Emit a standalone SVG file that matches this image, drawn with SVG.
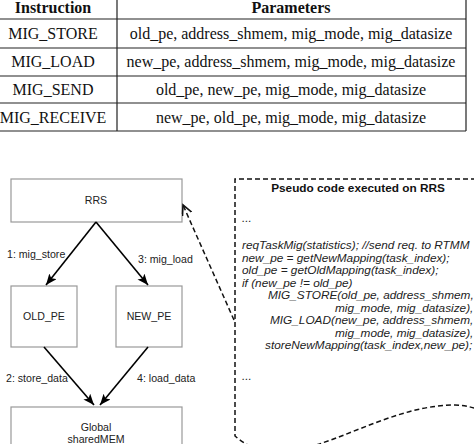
<svg xmlns="http://www.w3.org/2000/svg" width="474" height="444" viewBox="0 0 474 444">
<style>
.tl{stroke:#222;stroke-width:1.2;fill:none}
.th{font-family:"Liberation Serif",serif;font-weight:bold;font-size:16px;fill:#111;text-anchor:middle}
.td{font-family:"Liberation Serif",serif;font-size:16px;fill:#111;text-anchor:middle}
.box{fill:#fff;stroke:#999;stroke-width:1.2}
.lbl{font-family:"Liberation Sans",Arial,sans-serif;font-size:10.6px;fill:#222}
.nt{font-family:"Liberation Sans",Arial,sans-serif;font-size:10.6px;fill:#222;text-anchor:middle}
.code{font-family:"Liberation Sans",Arial,sans-serif;font-style:italic;font-size:11.8px;fill:#222}
.ttl{font-family:"Liberation Sans",Arial,sans-serif;font-weight:bold;font-size:11.8px;fill:#111;text-anchor:middle}
.arr{stroke:#000;stroke-width:1.6;fill:none}
.dash{stroke:#111;stroke-width:1.5;fill:none;stroke-dasharray:5,3}
</style>
<defs>
<marker id="ah" markerUnits="userSpaceOnUse" markerWidth="12" markerHeight="10" refX="11" refY="4.5" orient="auto">
<path d="M0,0 L11,4.5 L0,9 L2.5,4.5 z" fill="#000"/>
</marker>
<marker id="oh" markerUnits="userSpaceOnUse" markerWidth="12" markerHeight="12" refX="10" refY="5" orient="auto">
<path d="M0,0 L10,5 L0,10" fill="none" stroke="#111" stroke-width="1.6"/>
</marker>
</defs>
<rect width="474" height="444" fill="#fff"/>
<g id="table">
<path class="tl" d="M0,19 H466 M0,48 H466 M0,76 H466 M0,103 H466 M0,131 H466 M117,0 V131 M466,0 V131"/>
<text class="th" x="53" y="12.5">Instruction</text>
<text class="th" x="291" y="12.5">Parameters</text>
<text class="td" x="53" y="39">MIG_STORE</text>
<text class="td" x="291" y="39">old_pe, address_shmem, mig_mode, mig_datasize</text>
<text class="td" x="53" y="67">MIG_LOAD</text>
<text class="td" x="291" y="67">new_pe, address_shmem, mig_mode, mig_datasize</text>
<text class="td" x="53" y="95">MIG_SEND</text>
<text class="td" x="291" y="95">old_pe, new_pe, mig_mode, mig_datasize</text>
<text class="td" x="53" y="123">MIG_RECEIVE</text>
<text class="td" x="291" y="123">new_pe, old_pe, mig_mode, mig_datasize</text>
</g>
<g id="rrs">
<rect class="box" x="11" y="179" width="171" height="43"/>
<text class="nt" x="96" y="204">RRS</text>
</g>
<g id="old_pe">
<rect class="box" x="11" y="286" width="66" height="61"/>
<text class="nt" x="44" y="320">OLD_PE</text>
</g>
<g id="new_pe">
<rect class="box" x="116" y="286" width="66" height="61"/>
<text class="nt" x="149" y="320">NEW_PE</text>
</g>
<g id="global_mem">
<rect class="box" x="11" y="407" width="171" height="50"/>
<text class="nt" x="96" y="431">Global</text>
<text class="nt" x="96" y="443">sharedMEM</text>
</g>
<g id="pseudo_code">
<path class="dash" d="M476,179 H235 V436 C290,485 370,405 455,405 C464,405 470,407 478,409"/>
<text class="ttl" x="358" y="192">Pseudo code executed on RRS</text>
<text class="code" x="242" y="222">...</text>
<text class="code" x="242" y="249">reqTaskMig(statistics); //send req. to RTMM</text>
<text class="code" x="242" y="261.5">new_pe = getNewMapping(task_index);</text>
<text class="code" x="242" y="274">old_pe = getOldMapping(task_index);</text>
<text class="code" x="242" y="286.5">if (new_pe != old_pe)</text>
<text class="code" x="268" y="299">MIG_STORE(old_pe, address_shmem,</text>
<text class="code" x="335" y="311.5">mig_mode, mig_datasize),</text>
<text class="code" x="270" y="324">MIG_LOAD(new_pe, address_shmem,</text>
<text class="code" x="335" y="336.5">mig_mode, mig_datasize),</text>
<text class="code" x="265" y="349">storeNewMapping(task_index,new_pe);</text>
<text class="code" x="242" y="380">...</text>
</g>
<g id="connectors">
<line class="arr" x1="96" y1="222" x2="46" y2="285" marker-end="url(#ah)"/>
<line class="arr" x1="96" y1="222" x2="148" y2="285" marker-end="url(#ah)"/>
<line class="arr" x1="44" y1="347" x2="94" y2="405" marker-end="url(#ah)"/>
<line class="arr" x1="148" y1="347" x2="100" y2="405" marker-end="url(#ah)"/>
<line class="dash" x1="234" y1="320" x2="183" y2="205" marker-end="url(#oh)"/>
<text class="lbl" x="7" y="258">1: mig_store</text>
<text class="lbl" x="138" y="263">3: mig_load</text>
<text class="lbl" x="6" y="382">2: store_data</text>
<text class="lbl" x="137" y="382">4: load_data</text>
</g>
</svg>
